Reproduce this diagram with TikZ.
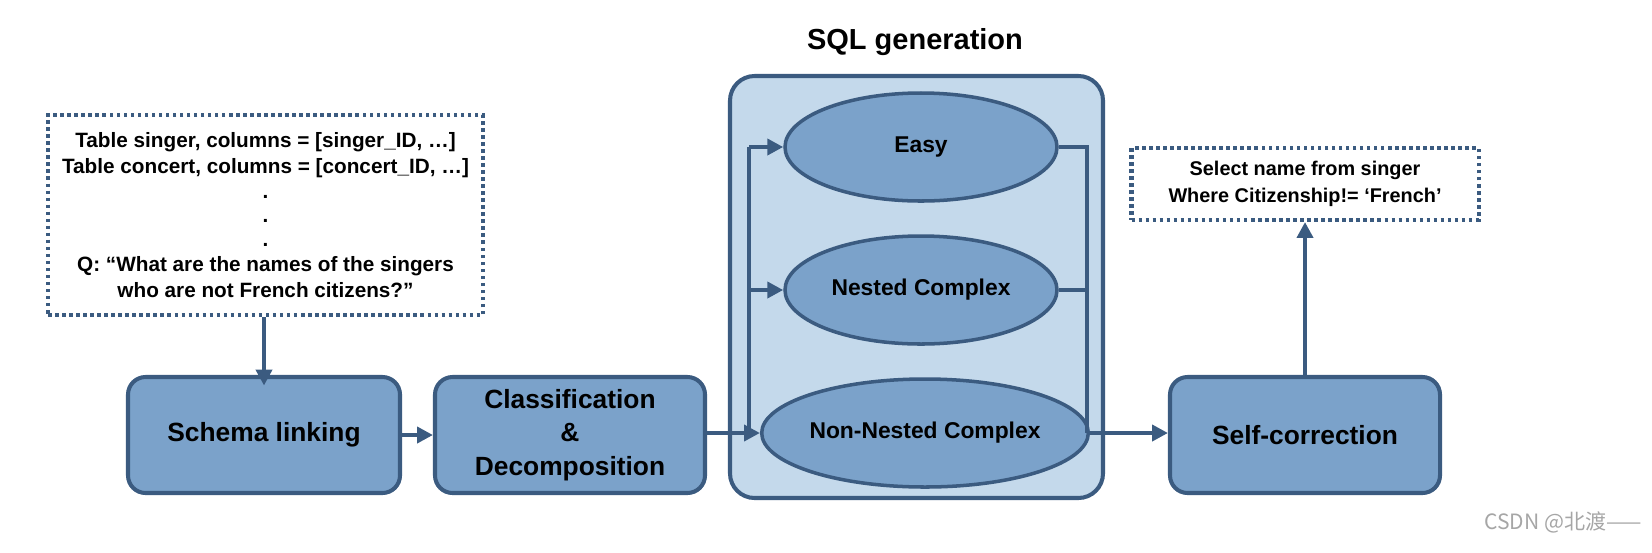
\documentclass[tikz,border=0pt]{standalone}
\usepackage{fontspec}
\setmainfont{Liberation Sans}
\newfontfamily\cjk{Noto Sans CJK SC}
\usetikzlibrary{shapes.geometric,arrows.meta}
\definecolor{edge}{HTML}{3B5B80}
\definecolor{boxfill}{HTML}{7BA2CA}
\definecolor{contfill}{HTML}{C4D9EB}
\begin{document}
\begin{tikzpicture}[x=0.02cm,y=-0.02cm,
  blk/.style={draw=edge,fill=boxfill,line width=2.3pt,rounded corners=10pt,font=\bfseries\fontsize{15}{17}\selectfont,align=center,inner sep=0pt},
  ell/.style={ellipse,draw=edge,fill=boxfill,line width=2pt,font=\bfseries\fontsize{13}{15}\selectfont,inner sep=0pt},
  dotbox/.style={draw=edge,line width=2.3pt,dash pattern=on 2pt off 2pt,align=center,inner sep=0pt,font=\bfseries\fontsize{11.8}{14.5}\selectfont},
  con/.style={draw=edge,line width=2.3pt},
  arr/.style={con,-{Triangle[length=9pt,width=9pt]}}]
% container
\node[draw=edge,fill=contfill,line width=2.3pt,rounded corners=14pt,minimum width=373*0.02cm,minimum height=422*0.02cm,inner sep=0pt] (sql) at (916.5,287) {};
\node[font=\bfseries\fontsize{16.5}{18}\selectfont] (title) at (915,42) {SQL generation};
% blocks
\node[blk,minimum width=272*0.02cm,minimum height=116*0.02cm] (schema) at (264,435) {Schema linking};
\node[blk,minimum width=270*0.02cm,minimum height=116*0.02cm] (cls) at (570,435) {Classification\\[2pt]\&\\[2pt]Decomposition};
\node[blk,minimum width=270*0.02cm,minimum height=116*0.02cm] (self) at (1305,435) {Self-correction};
% ellipses
\node[ell,minimum width=272*0.02cm,minimum height=108*0.02cm] (easy) at (921,147) {Easy};
\node[ell,minimum width=272*0.02cm,minimum height=108*0.02cm] (nest) at (921,290) {Nested Complex};
\node[ell,minimum width=280*0.02cm,minimum height=108*0.02cm] (non) at (925,433) {Non-Nested Complex};
% dotted boxes
\node[dotbox,minimum width=435*0.02cm,minimum height=200*0.02cm] (in) at (265.5,215) {Table singer, columns = [singer\_ID, …]\\Table concert, columns = [concert\_ID, …]\\.\\[-1pt].\\[-1pt].\\Q: “What are the names of the singers\\who are not French citizens?”};
\node[dotbox,minimum width=347*0.02cm,minimum height=72*0.02cm,font=\bfseries\fontsize{11.3}{15}\selectfont] (out) at (1305,184) {Select name from singer\\Where Citizenship!= ‘French’};
% connectors
\coordinate (lb) at (749,433);
\coordinate (rb) at (1087,433);
\draw[arr] (in.south -| schema) -- ([yshift=-6pt]schema.north);
\draw[arr] (schema.east) -- (cls.west);
\draw[arr] (cls.east |- non) -- (non.west);
\draw[con] (lb) -- (lb |- easy);
\draw[arr] (lb |- easy) -- (easy.west);
\draw[arr] (lb |- nest) -- (nest.west);
\draw[con] (easy.east) -- (rb |- easy) -- (rb);
\draw[con] (nest.east) -- (rb |- nest);
\draw[arr] (non.east) -- (non.east -| self.west);
\draw[arr] (self.north) -- (out.south);
\node[text=gray!70,font=\cjk\fontsize{12}{14}\selectfont,anchor=east] (wm) at (1648,522) {CSDN @北渡——};
\pgfresetboundingbox
\useasboundingbox (0,0) rectangle (1652,552);
\end{tikzpicture}
\end{document}
